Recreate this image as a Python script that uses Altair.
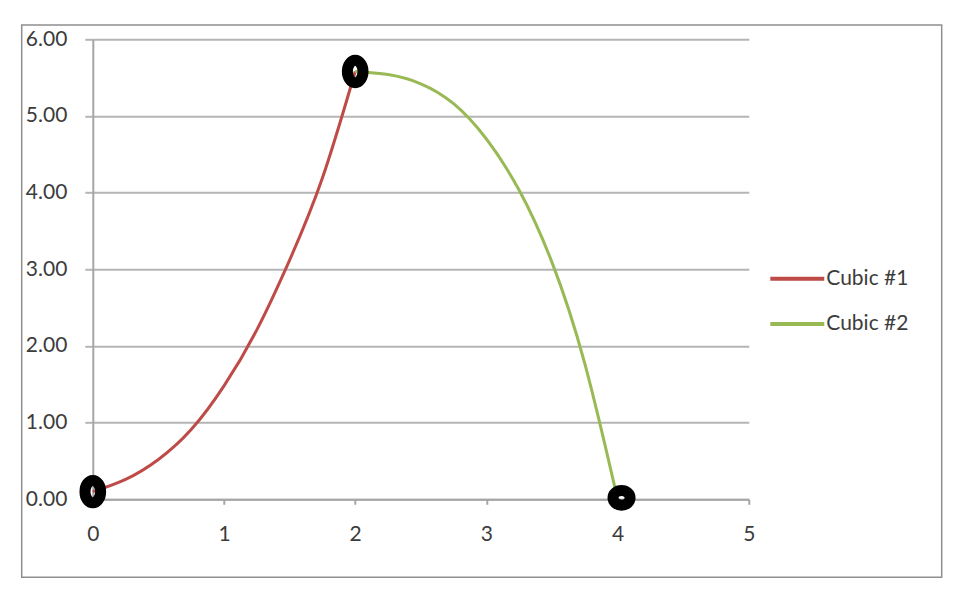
import altair as alt
import pandas as pd

# ---- data ----
series_names = ["Cubic #1", "Cubic #2"]
cubic1_x = [0.00, 0.25, 0.50, 0.75, 1.00, 1.25, 1.50, 1.75, 2.00]
cubic1_y = [0.10, 0.26, 0.52, 0.91, 1.48, 2.21, 3.12, 4.19, 5.58]
cubic2_x = [2.00, 2.25, 2.50, 2.75, 3.00, 3.25, 3.50, 3.75, 4.00]
cubic2_y = [5.58, 5.54, 5.42, 5.16, 4.70, 4.03, 3.09, 1.77, 0.00]
marker_x = [0.00, 2.00, 4.03]
marker_y = [0.10, 5.58, 0.02]
marker_kind = ["tall", "tall", "wide"]
x_ticks = [0, 1, 2, 3, 4, 5]
y_ticks = [0, 1, 2, 3, 4, 5, 6]
colors = ["#BE4B48", "#98B954"]

lines_df = pd.DataFrame({
    "x": cubic1_x + cubic2_x,
    "y": cubic1_y + cubic2_y,
    "series": [series_names[0]] * len(cubic1_x) + [series_names[1]] * len(cubic2_x),
    "order": list(range(len(cubic1_x))) + list(range(len(cubic2_x))),
})
markers_df = pd.DataFrame({"x": marker_x, "y": marker_y, "kind": marker_kind})


def ellipse_path(rx, ry):
    k = 0.5523
    return (f"M0,{-ry}C{k*rx},{-ry},{rx},{-k*ry},{rx},0"
            f"C{rx},{k*ry},{k*rx},{ry},0,{ry}"
            f"C{-k*rx},{ry},{-rx},{k*ry},{-rx},0"
            f"C{-rx},{-k*ry},{-k*rx},{-ry},0,{-ry}Z")


FONT = "Lato"
TXT = "#3c3c3c"
W, H = 656, 460

xscale = alt.Scale(domain=[0, 5], nice=False, zero=False)
yscale = alt.Scale(domain=[0, 6], nice=False, zero=False)

xaxis = alt.Axis(values=x_ticks, format="d", title="", grid=False, tickSize=5,
                 tickColor="#a6a6a6", tickWidth=2, domainColor="#a6a6a6",
                 domainWidth=2, labelFont=FONT, labelFontSize=21, labelColor=TXT,
                 labelPadding=19, labelFlush=False)
yaxis = alt.Axis(values=y_ticks, format=".2f", title="", grid=True,
                 gridColor="#b5b5b5", gridWidth=2, tickSize=8,
                 tickColor="#b5b5b5", tickWidth=2, domainColor="#a6a6a6",
                 domainWidth=2, labelFont=FONT, labelFontSize=21, labelColor=TXT,
                 labelPadding=18, labelFlush=False)

border = alt.Chart(pd.DataFrame({"a": [0]})).mark_rect(
    fill="transparent", stroke="#8f8f8f", strokeWidth=1.5
).encode(
    x=alt.value(-71.1), x2=alt.value(848.9), y=alt.value(-14.3), y2=alt.value(538)
)

lines = alt.Chart(lines_df).mark_line(strokeWidth=3, interpolate="natural").encode(
    x=alt.X("x:Q", scale=xscale, axis=xaxis),
    y=alt.Y("y:Q", scale=yscale, axis=yaxis),
    color=alt.Color("series:N",
                    scale=alt.Scale(domain=series_names, range=colors),
                    legend=alt.Legend(title="", orient="none", legendX=675.5,
                                      legendY=210.4, symbolType="stroke",
                                      symbolSize=2916, symbolStrokeWidth=4,
                                      labelFont=FONT, labelFontSize=21,
                                      labelColor=TXT, labelOffset=0,
                                      rowPadding=6.3)),
    order="order:Q",
)

tall = alt.Chart(markers_df).transform_filter(alt.datum.kind == "tall").mark_point(
    shape=ellipse_path(0.68, 0.97), size=530, filled=False, stroke="black",
    strokeWidth=11, opacity=1
).encode(x=alt.X("x:Q", scale=xscale), y=alt.Y("y:Q", scale=yscale))

wide = alt.Chart(markers_df).transform_filter(alt.datum.kind == "wide").mark_point(
    shape=ellipse_path(0.95, 0.82), size=324, filled=False, stroke="black",
    strokeWidth=11, opacity=1
).encode(x=alt.X("x:Q", scale=xscale), y=alt.Y("y:Q", scale=yscale))

chart = alt.layer(border, lines, tall, wide).properties(
    width=W, height=H,
    autosize=alt.AutoSizeParams(type="none"),
    padding={"left": 84.8, "top": 31.3, "right": 200, "bottom": 85},
    background="white",
).configure_view(strokeWidth=0)

chart.save("out.html", embed_options={"renderer": "svg", "actions": False})
